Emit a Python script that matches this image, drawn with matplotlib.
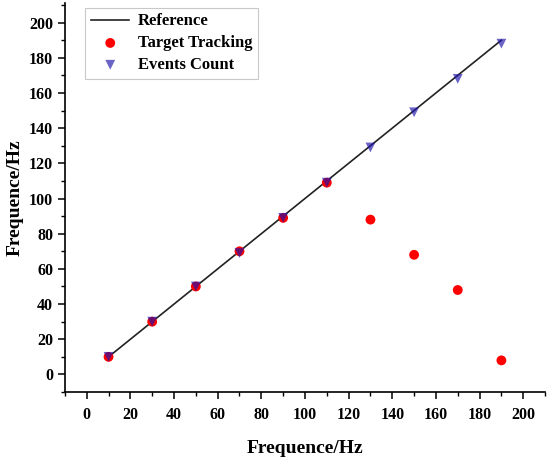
import matplotlib
matplotlib.use("Agg")
import matplotlib.pyplot as plt
from matplotlib.ticker import MultipleLocator

ref_x = [10, 190]
ref_y = [10, 190]
freq = [10, 30, 50, 70, 90, 110, 130, 150, 170, 190]
target_tracking = [10, 30, 50, 70, 89, 109, 88, 68, 48, 8]
events_count = [10, 30, 50, 69, 89, 109, 129, 149, 168, 188]

plt.rcParams['font.family'] = ['Liberation Serif', 'DejaVu Serif']
plt.rcParams['font.weight'] = 'bold'

fig = plt.figure(figsize=(5.5, 4.58), dpi=100)
ax = fig.add_axes([0.118, 0.144, 0.873, 0.849])

ax.plot(ref_x, ref_y, color='#222222', lw=1.2, label='Reference', zorder=2)
ax.scatter(freq, target_tracking, s=50, color='#ff0000', edgecolors='none',
           label='Target Tracking', zorder=3)
ax.scatter(freq, events_count, s=50, marker='v', color='#1f14ab', alpha=0.66,
           edgecolors='none', label='Events Count', zorder=4)

ax.set_xlim(-10, 210)
ax.set_ylim(-10, 211)
ax.xaxis.set_major_locator(MultipleLocator(20))
ax.xaxis.set_minor_locator(MultipleLocator(10))
ax.yaxis.set_major_locator(MultipleLocator(20))
ax.yaxis.set_minor_locator(MultipleLocator(10))
ax.spines['top'].set_visible(False)
ax.spines['right'].set_visible(False)
for s in ('left', 'bottom'):
    ax.spines[s].set_linewidth(1.2)
ax.tick_params(which='major', direction='out', length=5, width=1.1, labelsize=11.5)
ax.tick_params(axis='x', which='major', pad=6)
ax.tick_params(which='minor', direction='out', length=3, width=1.0)
for lab in ax.get_xticklabels() + ax.get_yticklabels():
    lab.set_fontweight('bold')

ax.set_xlabel('Frequence/Hz', fontsize=14, fontweight='bold', labelpad=12)
ax.set_ylabel('Frequence/Hz', fontsize=14, fontweight='bold', labelpad=4)

leg = ax.legend(loc='upper left', bbox_to_anchor=(0.025, 1.01),
                frameon=True, fancybox=False, edgecolor='#bbbbbb',
                handlelength=2.3, handletextpad=0.5, borderpad=0.35,
                labelspacing=0.35, prop={'weight': 'bold', 'size': 12})
leg.get_frame().set_linewidth(0.8)

fig.savefig('out.png', dpi=100)
